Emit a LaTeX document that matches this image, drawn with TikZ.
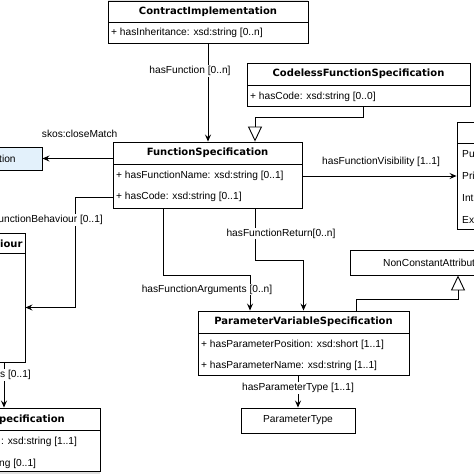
\documentclass[tikz,border=0pt]{standalone}
\usepackage{fontspec}
\setmainfont{Liberation Sans}
\newfontfamily\headfont{DejaVu Sans}
\usepackage{xcolor}
\usepackage{tikz}
\usetikzlibrary{positioning, arrows.meta, calc}
\definecolor{skosblue}{HTML}{E3F1FB}
\tikzstyle{class_head}=[draw, line width=0.9pt, inner sep=0pt, font=\headfont\bfseries\fontsize{10}{12}\selectfont]
\tikzstyle{class_body}=[draw, line width=0.9pt, inner sep=0pt]
\tikzstyle{attr_text}=[anchor=west, inner sep=0pt, font=\fontsize{10.2}{12}\selectfont]
\tikzstyle{head_text}=[inner sep=0pt, font=\headfont\bfseries\fontsize{10}{12}\selectfont]
\tikzstyle{edge_label}=[fill=white, inner sep=1pt, font=\fontsize{10.2}{12}\selectfont]
\tikzstyle{assoc}=[-{Stealth[length=7pt, width=6pt, inset=2.5pt]}, line width=0.9pt]
\tikzstyle{gen}=[-{Triangle[open, length=15pt, width=14pt]}, line width=0.9pt]

\begin{document}
\begin{tikzpicture}[x=1pt, y=-1pt]
    \useasboundingbox (0,0) rectangle (474,474);
    \fill[gray!25] (108,-3) rectangle (308,1.5);
    \fill[gray!25] (-3,471) rectangle (100,477);

    % classes
    \node[class_head, minimum width=200pt, minimum height=21pt] at (208, 12) (ci) {ContractImplementation};
    \node[class_body, minimum width=200pt, minimum height=21pt] at (208, 32.5) (ci_b) {};
    \node[attr_text] at (111, 33) (ci1) {+ hasInheritance: xsd:string [0..n]};

    \node[class_head, minimum width=223pt, minimum height=22pt] at (358.5, 74) (cfs) {CodelessFunctionSpecification};
    \node[class_body, minimum width=223pt, minimum height=21pt] at (358.5, 95.5) (cfs_b) {};
    \node[attr_text] at (250, 97) (cfs1) {+ hasCode: xsd:string [0..0]};

    \node[class_head, minimum width=189pt, minimum height=22pt] at (207.5, 153) (fs) {FunctionSpecification};
    \node[class_body, minimum width=189pt, minimum height=44pt] at (207.5, 186) (fs_b) {};
    \node[attr_text] at (116, 176) (fs1) {+ hasFunctionName: xsd:string [0..1]};
    \node[attr_text] at (116, 197) (fs2) {+ hasCode: xsd:string [0..1]};

    \node[draw, fill=skosblue, line width=0.9pt, minimum width=60pt, minimum height=23pt] at (12, 158.5) (cm) {};
    \node[attr_text] at (-1, 158.5) (cm1) {tion};

    \node[class_head, minimum width=63pt, minimum height=21pt] at (488.5, 132.5) (vis) {};
    \node[class_body, minimum width=63pt, minimum height=86pt] at (488.5, 186) (vis_b) {};
    \node[attr_text] at (462, 154) (vis1) {Pu};
    \node[attr_text] at (462, 176) (vis2) {Pri};
    \node[attr_text] at (462, 198) (vis3) {Int};
    \node[attr_text] at (462, 220) (vis4) {Ex};

    \node[class_head, minimum width=55pt, minimum height=20pt] at (-2.5, 243) (fb) {};
    \node[head_text, anchor=west] at (0, 244) (fb1) {iour};
    \node[class_body, minimum width=55pt, minimum height=109pt] at (-2.5, 307.5) (fb_b) {};

    \node[class_head, minimum width=150pt, minimum height=25pt] at (425, 262.5) (nca) {};
    \node[attr_text] at (383, 263) (nca1) {NonConstantAttribut};

    \node[class_head, minimum width=211pt, minimum height=22pt] at (303.5, 322) (pvs) {ParameterVariableSpecification};
    \node[class_body, minimum width=211pt, minimum height=42pt] at (303.5, 354) (pvs_b) {};
    \node[attr_text] at (201, 345) (pvs1) {+ hasParameterPosition: xsd:short [1..1]};
    \node[attr_text] at (201, 366) (pvs2) {+ hasParameterName: xsd:string [1..1]};

    \node[draw, line width=0.9pt, minimum width=114pt, minimum height=25pt, font=\fontsize{10.2}{12}\selectfont] at (298, 420.5) (pt) {ParameterType};

    \node[class_head, minimum width=140pt, minimum height=22pt] at (30, 419) (ps) {};
    \node[head_text, anchor=west] at (-1, 420) (ps1) {pecification};
    \node[class_body, minimum width=140pt, minimum height=41pt] at (30, 450.5) (ps_b) {};
    \node[attr_text] at (1, 442) (ps2) {: xsd:string [1..1]};
    \node[attr_text] at (-1, 464) (ps3) {ng [0..1]};

    % connectors
    \draw[assoc] (ci_b.south) -- (ci_b.south |- fs.north)
        node[edge_label, pos=0.28, xshift=-18pt] {hasFunction [0..n]};
    \draw[gen] ([xshift=5pt]cfs_b.south) -- ++(0,11) -| ([xshift=47.5pt]fs.north);
    \draw[assoc] (fs.west |- cm) -- (cm.east)
        node[edge_label, pos=0.47, yshift=25pt] {skos:closeMatch};
    \draw[assoc] (fs_b.east |- fs1) -- (vis_b.west |- fs1)
        node[edge_label, pos=0.51, yshift=14pt] {hasFunctionVisibility [1..1]};
    \draw[assoc] (fs_b.west |- fs2) -- ++(-37,0) |- (fb_b.east);
    \node[edge_label, anchor=east] at (104, 220) (l_fb) {unctionBehaviour [0..1]};
    \draw[assoc] ([xshift=-44.5pt]fs_b.south) -- ++(0,67) -| ([xshift=-53.5pt]pvs.north)
        node[edge_label, pos=0.7, xshift=-43pt] {hasFunctionArguments [0..n]};
    \draw[assoc] ([xshift=47.5pt]fs_b.south) -- ++(0,52)
        node[edge_label, pos=0.48, xshift=26pt] {hasFunctionReturn[0..n]} -| (pvs.north);
    \draw[gen] ([xshift=52.5pt]pvs.north) -- ++(0,-11) -| ([xshift=33pt]nca.south);
    \draw[assoc] (pvs_b.south -| pt.north) -- (pt.north)
        node[edge_label, pos=0.39] {hasParameterType [1..1]};
    \draw[assoc] ([xshift=6.5pt]fb_b.south) -- ([xshift=6.5pt]fb_b.south |- ps.north);
    \node[edge_label, anchor=east] at (32, 375) (l_ps) {s [0..1]};
\end{tikzpicture}
\end{document}
